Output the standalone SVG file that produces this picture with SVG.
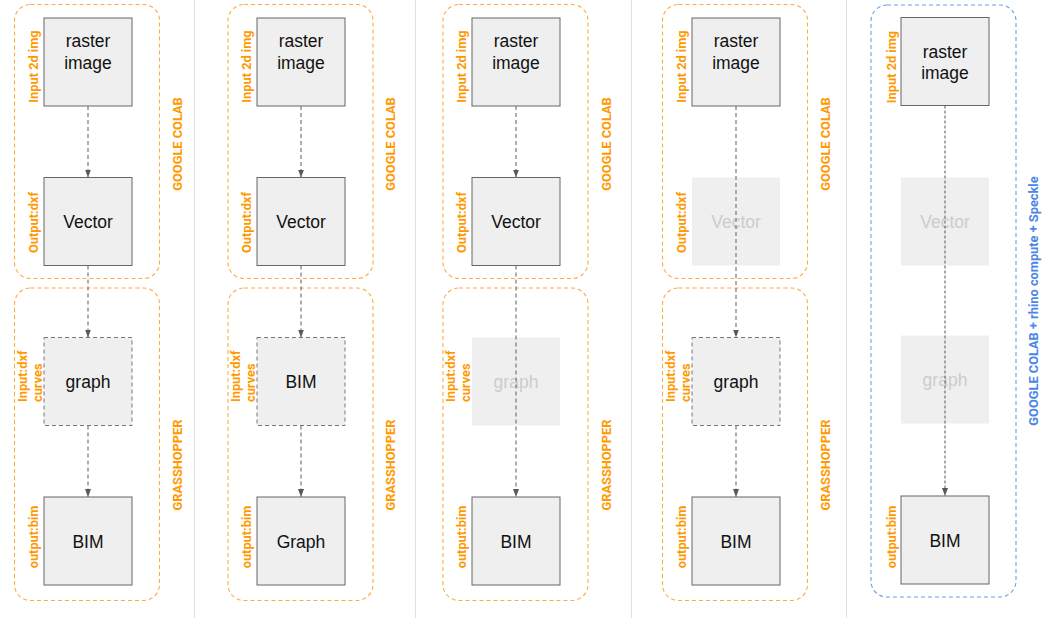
<svg xmlns="http://www.w3.org/2000/svg" width="1051" height="618" viewBox="0 0 1051 618">
<style>
.bg{fill:#ffffff}
.div{stroke:#e0e0e0;stroke-width:1}
.grp{fill:none;stroke:#ffab40;stroke-width:1.1;stroke-dasharray:4 3}
.grpb{fill:none;stroke:#6d9eeb;stroke-width:1.1;stroke-dasharray:4 3}
.n{fill:#efefef;stroke:#666666;stroke-width:1}
.nd{fill:#efefef;stroke:#777777;stroke-width:1;stroke-dasharray:4 3}
.nf{fill:#efefef;stroke:none}
.t{font-family:"Liberation Sans",Arial,sans-serif;font-size:17.5px;fill:#111111;text-anchor:middle}
.tf{font-family:"Liberation Sans",Arial,sans-serif;font-size:17.5px;fill:#cccccc;text-anchor:middle}
.l{font-family:Roboto,"Liberation Sans",sans-serif;font-weight:bold;font-size:12.8px;fill:#ff9900;text-anchor:middle}
.ls{font-family:Roboto,"Liberation Sans",sans-serif;font-weight:bold;font-size:12.8px;fill:#ff9900;text-anchor:start}
.lb{font-family:Roboto,"Liberation Sans",sans-serif;font-weight:bold;font-size:12.8px;fill:#4a86e8;text-anchor:middle}
.c{fill:none;stroke:#777777;stroke-width:1.2;stroke-dasharray:4 3}
.cd{fill:none;stroke:#555555;stroke-width:1;stroke-dasharray:3 2}
</style>
<defs>
<marker id="ah" markerUnits="userSpaceOnUse" markerWidth="8" markerHeight="6" refX="8" refY="3" orient="auto">
<path d="M0,0 L8,3 L0,6 z" fill="#595959"/>
</marker>
</defs>
<rect class="bg" x="0" y="0" width="1051" height="618"/>
<g id="dividers">
<line class="div" x1="194.5" y1="0" x2="194.5" y2="618"/>
<line class="div" x1="415.5" y1="0" x2="415.5" y2="618"/>
<line class="div" x1="631.5" y1="0" x2="631.5" y2="618"/>
<line class="div" x1="846.5" y1="0" x2="846.5" y2="618"/>
</g>

<!-- Column 1 -->
<g id="c1-colab"><rect class="grp" x="14.5" y="4.5" width="145" height="274" rx="16"/><text class="l" transform="translate(181.5,144) rotate(-90)">GOOGLE COLAB</text></g>
<g id="c1-grasshopper"><rect class="grp" x="14.5" y="288" width="145" height="312.5" rx="16"/><text class="l" transform="translate(181.5,465) rotate(-90)">GRASSHOPPER</text></g>
<g id="c1-raster"><rect class="n" x="44" y="18" width="88" height="88"/><text class="t" x="88" y="47">raster</text><text class="t" x="88" y="68.5">image</text><text class="l" transform="translate(38,66.5) rotate(-90)">Input 2d img</text></g>
<g id="c1-vector"><rect class="n" x="44" y="177.5" width="88" height="88"/><text class="t" x="88" y="228">Vector</text><text class="l" transform="translate(38,222.5) rotate(-90)">Output:dxf</text></g>
<g id="c1-graph"><rect class="nd" x="44" y="337.5" width="88" height="88"/><text class="t" x="88" y="388">graph</text><text class="ls" transform="translate(27,402) rotate(-90)">Input:dxf</text><text class="ls" transform="translate(42,402) rotate(-90)">curves</text></g>
<g id="c1-bim"><rect class="n" x="44" y="497" width="88" height="88"/><text class="t" x="88" y="547.5">BIM</text><text class="l" transform="translate(38,537) rotate(-90)">output:bim</text></g>

<!-- Column 2 -->
<g id="c2-colab"><rect class="grp" x="228" y="4.5" width="145" height="274" rx="16"/><text class="l" transform="translate(395,144) rotate(-90)">GOOGLE COLAB</text></g>
<g id="c2-grasshopper"><rect class="grp" x="228" y="288" width="145" height="312.5" rx="16"/><text class="l" transform="translate(395,465) rotate(-90)">GRASSHOPPER</text></g>
<g id="c2-raster"><rect class="n" x="257" y="18" width="88" height="88"/><text class="t" x="301" y="47">raster</text><text class="t" x="301" y="68.5">image</text><text class="l" transform="translate(251,66.5) rotate(-90)">Input 2d img</text></g>
<g id="c2-vector"><rect class="n" x="257" y="177.5" width="88" height="88"/><text class="t" x="301" y="228">Vector</text><text class="l" transform="translate(251,222.5) rotate(-90)">Output:dxf</text></g>
<g id="c2-bim"><rect class="nd" x="257" y="337.5" width="88" height="88"/><text class="t" x="301" y="388">BIM</text><text class="ls" transform="translate(240,402) rotate(-90)">Input:dxf</text><text class="ls" transform="translate(255,402) rotate(-90)">curves</text></g>
<g id="c2-graph"><rect class="n" x="257" y="497" width="88" height="88"/><text class="t" x="301" y="547.5">Graph</text><text class="l" transform="translate(251,537) rotate(-90)">output:bim</text></g>

<!-- Column 3 -->
<g id="c3-colab"><rect class="grp" x="443" y="4.5" width="145" height="274" rx="16"/><text class="l" transform="translate(610.5,144) rotate(-90)">GOOGLE COLAB</text></g>
<g id="c3-grasshopper"><rect class="grp" x="443" y="288" width="145" height="312.5" rx="16"/><text class="l" transform="translate(610.5,465) rotate(-90)">GRASSHOPPER</text></g>
<g id="c3-raster"><rect class="n" x="472" y="18" width="88" height="88"/><text class="t" x="516" y="47">raster</text><text class="t" x="516" y="68.5">image</text><text class="l" transform="translate(466,66.5) rotate(-90)">Input 2d img</text></g>
<g id="c3-vector"><rect class="n" x="472" y="177.5" width="88" height="88"/><text class="t" x="516" y="228">Vector</text><text class="l" transform="translate(466,222.5) rotate(-90)">Output:dxf</text></g>
<g id="c3-graph"><rect class="nf" x="472" y="337.5" width="88" height="88"/><text class="tf" x="516" y="388">graph</text><text class="ls" transform="translate(455,402) rotate(-90)">Input:dxf</text><text class="ls" transform="translate(470,402) rotate(-90)">curves</text></g>
<g id="c3-bim"><rect class="n" x="472" y="497" width="88" height="88"/><text class="t" x="516" y="547.5">BIM</text><text class="l" transform="translate(466,537) rotate(-90)">output:bim</text></g>

<!-- Column 4 -->
<g id="c4-colab"><rect class="grp" x="662.5" y="4.5" width="145" height="274" rx="16"/><text class="l" transform="translate(830,144) rotate(-90)">GOOGLE COLAB</text></g>
<g id="c4-grasshopper"><rect class="grp" x="662.5" y="288" width="145" height="312.5" rx="16"/><text class="l" transform="translate(830,465) rotate(-90)">GRASSHOPPER</text></g>
<g id="c4-raster"><rect class="n" x="692" y="18" width="88" height="88"/><text class="t" x="736" y="47">raster</text><text class="t" x="736" y="68.5">image</text><text class="l" transform="translate(686,66.5) rotate(-90)">Input 2d img</text></g>
<g id="c4-vector"><rect class="nf" x="692" y="177.5" width="88" height="88"/><text class="tf" x="736" y="228">Vector</text><text class="l" transform="translate(686,222.5) rotate(-90)">Output:dxf</text></g>
<g id="c4-graph"><rect class="nd" x="692" y="337.5" width="88" height="88"/><text class="t" x="736" y="388">graph</text><text class="ls" transform="translate(675,402) rotate(-90)">Input:dxf</text><text class="ls" transform="translate(690,402) rotate(-90)">curves</text></g>
<g id="c4-bim"><rect class="n" x="692" y="497" width="88" height="88"/><text class="t" x="736" y="547.5">BIM</text><text class="l" transform="translate(686,537) rotate(-90)">output:bim</text></g>

<!-- Column 5 -->
<g id="c5-group"><rect class="grpb" x="871" y="5" width="145" height="592" rx="16"/><text class="lb" transform="translate(1038,301) rotate(-90)">GOOGLE COLAB + rhino compute + Speckle</text></g>
<g id="c5-raster"><rect class="n" x="901" y="17.5" width="88" height="88"/><text class="t" x="945" y="57.5">raster</text><text class="t" x="945" y="79">image</text><text class="l" transform="translate(895.5,67) rotate(-90)">Input 2d img</text></g>
<g id="c5-vector"><rect class="nf" x="901" y="177.5" width="88" height="88"/><text class="tf" x="945" y="228">Vector</text></g>
<g id="c5-graph"><rect class="nf" x="901" y="335.5" width="88" height="88"/><text class="tf" x="945" y="386">graph</text></g>
<g id="c5-bim"><rect class="n" x="901" y="496" width="88" height="88"/><text class="t" x="945" y="546.5">BIM</text><text class="l" transform="translate(895.5,537) rotate(-90)">output:bim</text></g>

<g id="connectors">
<line class="c" x1="88" y1="106" x2="88" y2="177.5" marker-end="url(#ah)"/>
<line class="c" x1="88" y1="265.5" x2="88" y2="337.5" marker-end="url(#ah)"/>
<line class="c" x1="88" y1="425.5" x2="88" y2="497" marker-end="url(#ah)"/>
<line class="c" x1="301" y1="106" x2="301" y2="177.5" marker-end="url(#ah)"/>
<line class="c" x1="301" y1="265.5" x2="301" y2="337.5" marker-end="url(#ah)"/>
<line class="c" x1="301" y1="425.5" x2="301" y2="497" marker-end="url(#ah)"/>
<line class="c" x1="516" y1="106" x2="516" y2="177.5" marker-end="url(#ah)"/>
<line class="c" x1="516" y1="265.5" x2="516" y2="497" marker-end="url(#ah)"/>
<line class="c" x1="736" y1="106" x2="736" y2="337.5" marker-end="url(#ah)"/>
<line class="c" x1="736" y1="425.5" x2="736" y2="497" marker-end="url(#ah)"/>
<line class="cd" x1="945" y1="105.5" x2="945" y2="496" marker-end="url(#ah)"/>
</g>
</svg>
